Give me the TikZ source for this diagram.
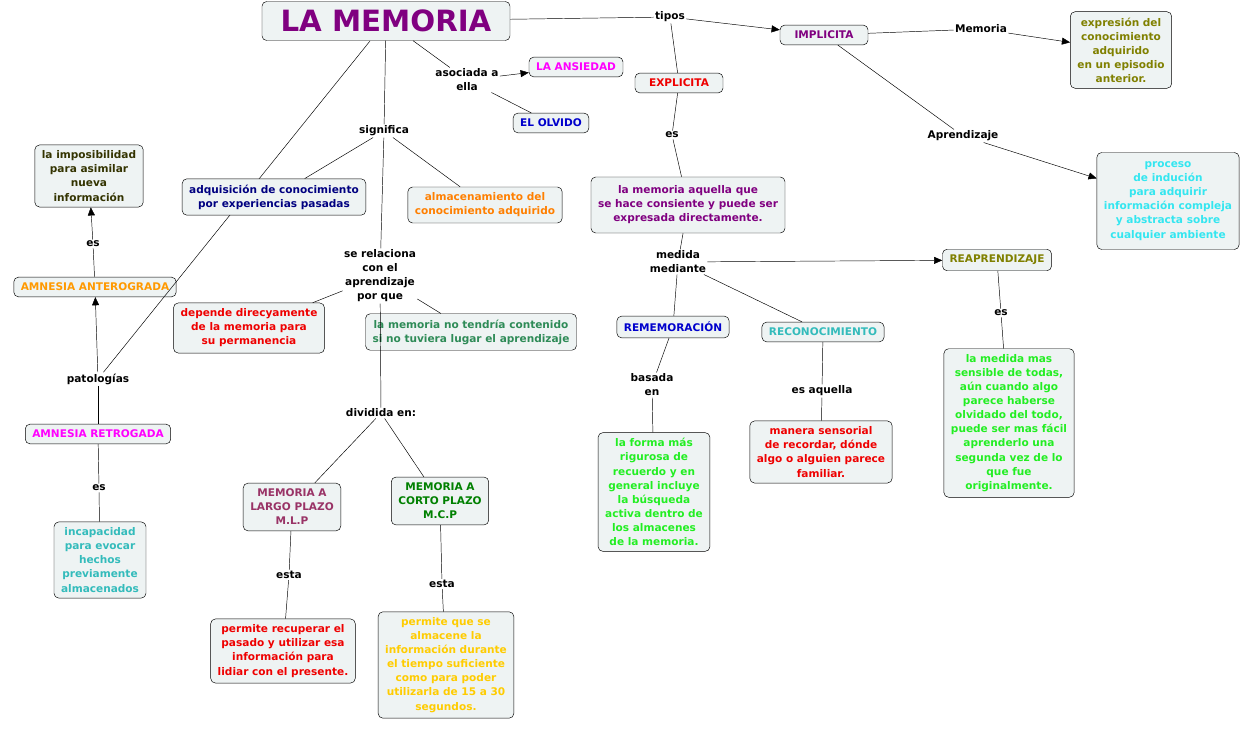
\documentclass[tikz,border=0pt]{standalone}
\usepackage{fontspec}
\setmainfont{DejaVu Sans}
\usetikzlibrary{arrows.meta}
\definecolor{boxfill}{HTML}{EEF3F3}
\definecolor{c_purple}{HTML}{800080}
\definecolor{c_olive}{HTML}{808000}
\definecolor{c_cyan}{HTML}{33E6F0}
\definecolor{c_magenta}{HTML}{FF00FF}
\definecolor{c_blue}{HTML}{0000CC}
\definecolor{c_navy}{HTML}{000080}
\definecolor{c_red}{HTML}{EE0000}
\definecolor{c_orange}{HTML}{FF7F00}
\definecolor{c_amber}{HTML}{FF9900}
\definecolor{c_teal}{HTML}{2E8B57}
\definecolor{c_turq}{HTML}{33BBBB}
\definecolor{c_green}{HTML}{22EE22}
\definecolor{c_dgreen}{HTML}{008000}
\definecolor{c_maroon}{HTML}{993366}
\definecolor{c_gold}{HTML}{FFCC00}
\definecolor{c_dolive}{HTML}{333300}
\begin{document}
\begin{tikzpicture}[
    x=0.03cm, y=-0.03cm,
    font=\fontsize{9}{12}\selectfont\bfseries,
    concept/.style={draw, rounded corners=4pt, fill=boxfill, align=center, inner xsep=6pt, inner ysep=5pt},
    link_word/.style={fill=white, align=center, inner sep=1pt},
    to_tip/.style={-{Triangle[length=7pt,width=6pt]}}
  ]
    \useasboundingbox (0,0) rectangle (1253,733);
    % concepts
    \node[concept, text=c_purple, font=\fontsize{25}{28}\selectfont\bfseries, minimum width=248*0.03cm, minimum height=39*0.03cm] (memoria) at (386,21) {LA MEMORIA};
    \node[concept, text=c_purple, minimum width=88*0.03cm] (implicita) at (824,35) {IMPLICITA};
    \node[concept, text=c_olive] (expresion) at (1121,50) {expresión del\\conocimiento\\adquirido\\en un episodio\\anterior.};
    \node[concept, text=c_cyan, minimum height=97*0.03cm] (proceso) at (1168,201) {proceso\\de indución\\para adquirir\\información compleja\\y abstracta sobre\\cualquier ambiente};
    \node[concept, text=c_magenta] (ansiedad) at (576,67) {LA ANSIEDAD};
    \node[concept, text=c_blue] (olvido) at (551,123) {EL OLVIDO};
    \node[concept, text=c_red, minimum width=88*0.03cm] (explicita) at (679,83) {EXPLICITA};
    \node[concept, text=c_purple, minimum height=56*0.03cm] (aquella) at (688,205) {la memoria aquella que\\se hace consiente y puede ser\\expresada directamente.};
    \node[concept, text=c_olive] (reaprendizaje) at (997,260) {REAPRENDIZAJE};
    \node[concept, text=c_green] (medida) at (1009,423) {la medida mas\\sensible de todas,\\aún cuando algo\\parece haberse\\olvidado del todo,\\puede ser mas fácil\\aprenderlo una\\segunda vez de lo\\que fue\\originalmente.};
    \node[concept, text=c_blue] (rememoracion) at (673,327) {REMEMORACIÓN};
    \node[concept, text=c_turq] (reconocimiento) at (823,332) {RECONOCIMIENTO};
    \node[concept, text=c_green] (forma) at (654,492) {la forma más\\rigurosa de\\recuerdo y en\\general incluye\\la búsqueda\\activa dentro de\\los almacenes\\de la memoria.};
    \node[concept, text=c_red] (sensorial) at (821,452) {manera sensorial\\de recordar, dónde\\algo o alguien parece\\familiar.};
    \node[concept, text=c_orange] (almacenamiento) at (485,205) {almacenamiento del\\conocimiento adquirido};
    \node[concept, text=c_red] (depende) at (249,328) {depende direcyamente\\de la memoria para\\su permanencia};
    \node[concept, text=c_teal] (tendria) at (471,332) {la memoria no tendría contenido\\si no tuviera lugar el aprendizaje};
    \node[concept, text=c_maroon] (largo) at (292,507) {MEMORIA A\\LARGO PLAZO\\M.L.P};
    \node[concept, text=c_dgreen] (corto) at (440,501) {MEMORIA A\\CORTO PLAZO\\M.C.P};
    \node[concept, text=c_red] (recuperar) at (283,651) {permite recuperar el\\pasado y utilizar esa\\información para\\lidiar con el presente.};
    \node[concept, text=c_gold] (almacene) at (446,665) {permite que se\\almacene la\\información durante\\el tiempo suficiente\\como para poder\\utilizarla de 15 a 30\\segundos.};
    \node[concept, text=c_dolive] (imposibilidad) at (89,176) {la imposibilidad\\para asimilar\\nueva\\información};
    \node[concept, text=c_amber] (anterograda) at (95,287) {AMNESIA ANTEROGRADA};
    \node[concept, text=c_magenta] (retrogada) at (98,434) {AMNESIA RETROGADA};
    \node[concept, text=c_turq] (incapacidad) at (100,560) {incapacidad\\para evocar\\hechos\\previamente\\almacenados};
    % linking words
    \node[link_word] (tipos) at (670,17) {tipos};
    \node[link_word] (memoria_lw) at (981,29) {Memoria};
    \node[link_word] (aprendizaje) at (963,136) {Aprendizaje};
    \node[link_word] (asociada) at (467,80) {asociada a\\ella};
    \node[link_word] (es_expl) at (672,135) {es};
    \node[link_word] (mediante) at (678,262) {medida\\mediante};
    \node[link_word] (es_reap) at (1001,313) {es};
    \node[link_word] (basada) at (652,385) {basada\\en};
    \node[link_word] (es_aquella) at (822,391) {es aquella};
    \node[link_word] (significa) at (384,131) {significa};
    \node[link_word] (relaciona) at (380,276) {se relaciona\\con el\\aprendizaje\\por que};
    \node[link_word] (dividida) at (381,413) {dividida en:};
    \node[link_word] (esta_l) at (289,575) {esta};
    \node[link_word] (esta_c) at (442,584) {esta};
    \node[link_word] (es_ant) at (93,244) {es};
    \node[link_word] (patologias) at (98,379) {patologías};
    \node[link_word] (es_ret) at (99,488) {es};
    % connectors
    \draw (memoria) -- (tipos);
    \draw[to_tip] (tipos) -- (implicita);
    \draw (tipos) -- (explicita);
    \draw (implicita) -- (memoria_lw);
    \draw[to_tip] (memoria_lw) -- (expresion);
    \draw (implicita) -- (aprendizaje);
    \draw[to_tip] (aprendizaje) -- (proceso);
    \draw (memoria) -- (asociada);
    \draw[to_tip] (asociada) -- (ansiedad);
    \draw (asociada) -- (olvido);
    \draw (explicita) -- (es_expl) -- (aquella);
    \draw (aquella) -- (mediante);
    \draw[to_tip] (mediante) -- (reaprendizaje);
    \draw (mediante) -- (rememoracion);
    \draw (mediante) -- (reconocimiento);
    \draw (reaprendizaje) -- (es_reap) -- (medida);
    \draw (rememoracion) -- (basada) -- (forma);
    \draw (reconocimiento) -- (es_aquella) -- (sensorial);
    \draw (memoria) -- (significa);
    \draw (significa) -- (almacenamiento);
    \draw (significa) -- (relaciona);
    \draw (relaciona) -- (depende);
    \draw (relaciona) -- (tendria);
    \draw (relaciona) -- (dividida);
    \draw (dividida) -- (largo);
    \draw (dividida) -- (corto);
    \draw (largo) -- (esta_l) -- (recuperar);
    \draw (corto) -- (esta_c) -- (almacene);
    \coordinate (pat_start) at (370,41);
    \draw (pat_start) -- (patologias);
    \draw[to_tip] (patologias) -- (anterograda);
    \draw (patologias) -- (retrogada);
    \draw (anterograda) -- (es_ant);
    \draw[to_tip] (es_ant) -- (imposibilidad);
    \draw (retrogada) -- (es_ret) -- (incapacidad);
    % drawn last so that it covers the patologías line
    \node[concept, text=c_navy] (adquisicion) at (274,197) {adquisición de conocimiento\\por experiencias pasadas};
    \draw (significa) -- (adquisicion);
  \end{tikzpicture}
\end{document}
